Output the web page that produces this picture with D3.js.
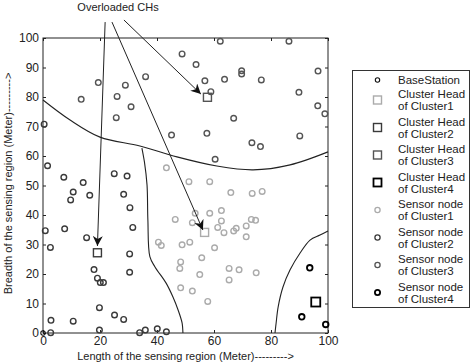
<html>
  <head>
    <meta charset="utf-8" />
    <script src="https://d3js.org/d3.v7.min.js"></script>
    <style>
      body { margin: 0; background: #fff; }
      text { font-family: Arial, "Liberation Sans", sans-serif; fill: #222; }
    </style>
  </head>
  <body>
    <svg id="chart" width="474" height="363"></svg>
    <script>
      // sensor nodes per cluster, [x, y] in meters
      var cluster1 = [[43.3,56.0],[51.2,51.3],[58.5,51.3],[46.4,38.5],[40.5,30.8],[41.5,29.7],[48.8,29.9],[48.3,24.1],[48.0,21.9],[48.3,15.3],[65.9,47.6],[73.4,47.3],[76.9,48.0],[53.4,40.6],[58.5,40.6],[62.6,41.5],[52.4,37.4],[62.6,38.0],[61.3,35.8],[63.5,34.0],[66.9,34.6],[67.8,35.5],[71.3,36.3],[73.1,38.5],[74.6,38.2],[71.3,32.6],[51.5,30.8],[60.2,28.9],[55.7,25.5],[65.3,21.9],[68.8,21.4],[74.8,20.4],[55.0,19.8],[65.3,18.0],[52.4,14.2],[57.8,10.7]];
      var cluster2 = [[0.4,70.8],[1.6,56.7],[7.3,52.8],[14.1,51.0],[25.0,54.0],[29.5,53.2],[10.6,47.8],[9.7,45.1],[16.4,46.7],[28.3,47.0],[30.5,42.5],[31.5,35.8],[0.8,34.7],[7.6,35.3],[2.6,29.0],[15.3,32.3],[30.4,26.8],[17.9,21.5],[19.1,18.6],[20.1,17.1],[21.2,17.1],[30.4,20.6],[19.8,8.6],[2.8,4.3],[10.6,4.0],[25.1,6.1],[28.3,4.6],[19.8,1.0],[2.7,0.1],[33.9,0.1],[35.9,1.0],[40.1,1.4],[43.3,0.4]];
      var cluster3 = [[48.8,94.6],[36.0,86.9],[19.4,84.9],[28.9,84.0],[13.4,79.2],[26.0,80.2],[30.9,76.7],[25.7,73.0],[45.1,67.1],[62.2,98.9],[86.3,98.9],[53.7,91.0],[56.8,85.5],[63.7,86.0],[69.7,88.9],[69.7,87.8],[76.6,85.8],[96.5,88.8],[58.9,81.8],[89.8,81.6],[96.4,77.0],[98.9,74.3],[66.9,72.8],[57.5,67.7],[73.3,64.5],[76.3,63.2],[90.1,66.8],[60.4,58.9]];
      var cluster4 = [[93.6,22.1],[90.8,5.5],[99.2,2.9]];
      var heads = [[56.7,34.1],[19.1,27.2],[57.7,79.9],[95.7,10.5]];
      var baseStation = [[0,0]];

      // cluster boundaries
      var boundTop = [[0,79.0],[9.5,72.2],[20,66.4],[34,63.4],[47,59.7],[61,56.6],[73.7,55.3],[86.7,57.0],[100,61.4]];
      var boundLeft = [[34.7,62.7],[35.6,57.9],[36.5,50.2],[36.8,38.3],[37.5,25.9],[39.3,22.4],[43.2,16.9],[45.6,12.2],[47.4,7.8],[48.8,3.4],[49.1,0]];
      var boundRight = [[100,34.6],[97.2,33.2],[93.7,31.5],[90.2,27.1],[86.7,21.4],[84.2,15.6],[82.5,8.8],[81.8,3.4],[81.4,0]];

      // "Overloaded CHs" arrows: from [x, y] to [x, y]
      var arrows = [[[21.8,105.4],[19.1,29.5]],[[24.2,105.4],[56.1,34.9]],[[28.4,106.1],[55.4,81.0]]];

      var xTicks = [0,20,40,60,80,100];
      var yTicks = [0,10,20,30,40,50,60,70,80,90,100];

      var legendLabels = [["BaseStation"],["Cluster Head","of Cluster1"],["Cluster Head","of Cluster2"],["Cluster Head","of Cluster3"],["Cluster Head","of Cluster4"],["Sensor node","of Cluster1"],["Sensor node","of Cluster2"],["Sensor node","of Cluster3"],["Sensor node","of Cluster4"]];

      var colors = ["#ababab", "#3a3a3a", "#545454", "#000"];

      var svg = d3.select("#chart"),
        margin = { top: 38, bottom: 30, left: 43, right: 146 },
        width = +svg.attr("width"),
        height = +svg.attr("height");

      var x = d3.scaleLinear().domain([0,100]).range([margin.left, width - margin.right]);
      var y = d3.scaleLinear().domain([0,100]).range([height - margin.bottom, margin.top]);

      // axes with inward ticks on all sides
      svg.append("g")
        .attr("transform", "translate(0," + y(0) + ")")
        .call(d3.axisBottom(x).tickValues(xTicks).tickSizeInner(-3).tickSizeOuter(0).tickPadding(3))
        .call((g) => g.select(".domain").remove());
      svg.append("g")
        .attr("transform", "translate(0," + y(100) + ")")
        .call(d3.axisTop(x).tickValues(xTicks).tickSizeInner(-3).tickSizeOuter(0).tickFormat(""))
        .call((g) => g.select(".domain").remove());
      svg.append("g")
        .attr("transform", "translate(" + x(0) + ",0)")
        .call(d3.axisLeft(y).tickValues(yTicks).tickSizeInner(-3).tickSizeOuter(0).tickPadding(4))
        .call((g) => g.select(".domain").remove());
      svg.append("g")
        .attr("transform", "translate(" + x(100) + ",0)")
        .call(d3.axisRight(y).tickValues(yTicks).tickSizeInner(-3).tickSizeOuter(0).tickFormat(""))
        .call((g) => g.select(".domain").remove());

      svg.selectAll(".tick text")
        .style("font-size", "12px")
        .style("font-family", "Arial, 'Liberation Sans', sans-serif")
        .attr("fill", "#222");
      svg.selectAll(".tick line").attr("stroke", "#222");

      svg.append("rect")
        .attr("x", x(0)).attr("y", y(100))
        .attr("width", x(100) - x(0)).attr("height", y(0) - y(100))
        .attr("fill", "none").attr("stroke", "#222").attr("stroke-width", 1);

      // axis titles
      svg.append("text")
        .attr("x", (x(0) + x(100)) / 2).attr("y", height - 3)
        .attr("text-anchor", "middle").style("font-size", "11px")
        .text("Length of the sensing region (Meter)--------->");
      svg.append("text")
        .attr("transform", "translate(12," + ((y(0) + y(100)) / 2 - 2) + ") rotate(-90)")
        .attr("text-anchor", "middle").style("font-size", "11px")
        .text("Breadth of the sensing region (Meter)--------->");

      // boundaries
      var line = d3.line().x((d) => x(d[0])).y((d) => y(d[1])).curve(d3.curveCatmullRom);
      [boundTop, boundLeft, boundRight].forEach(function (b) {
        svg.append("path").attr("d", line(b))
          .attr("fill", "none").attr("stroke", "#222").attr("stroke-width", 1.1);
      });

      // sensor nodes
      [cluster1, cluster2, cluster3, cluster4].forEach(function (c, i) {
        svg.append("g").selectAll("circle").data(c).enter().append("circle")
          .attr("cx", (d) => x(d[0])).attr("cy", (d) => y(d[1]))
          .attr("r", 2.8)
          .attr("fill", "none")
          .attr("stroke", colors[i])
          .attr("stroke-width", i == 3 ? 1.8 : 1.4);
      });

      // cluster heads
      svg.append("g").selectAll("rect").data(heads).enter().append("rect")
        .attr("x", (d, i) => x(d[0]) - (i == 3 ? 4.5 : 4))
        .attr("y", (d, i) => y(d[1]) - (i == 3 ? 4.5 : 4))
        .attr("width", (d, i) => (i == 3 ? 9 : 8))
        .attr("height", (d, i) => (i == 3 ? 9 : 8))
        .attr("fill", "none")
        .attr("stroke", (d, i) => colors[i])
        .attr("stroke-width", (d, i) => (i == 3 ? 1.8 : 1.4));

      // base station
      svg.selectAll(".bs").data(baseStation).enter().append("circle")
        .attr("cx", (d) => x(d[0])).attr("cy", (d) => y(d[1]))
        .attr("r", 2.2).attr("fill", "none").attr("stroke", "#111").attr("stroke-width", 1.1);

      // annotation
      svg.append("defs").append("marker")
        .attr("id", "head").attr("viewBox", "0 0 10 10")
        .attr("refX", 10).attr("refY", 5)
        .attr("markerWidth", 10).attr("markerHeight", 10)
        .attr("markerUnits", "userSpaceOnUse")
        .attr("orient", "auto")
        .append("path").attr("d", "M0,0 L10,5 L0,10 L3,5 Z").attr("fill", "#111");

      svg.append("g").selectAll("line").data(arrows).enter().append("line")
        .attr("x1", (d) => x(d[0][0])).attr("y1", (d) => y(d[0][1]))
        .attr("x2", (d) => x(d[1][0])).attr("y2", (d) => y(d[1][1]))
        .attr("stroke", "#222").attr("stroke-width", 1)
        .attr("marker-end", "url(#head)");

      svg.append("text")
        .attr("x", 118).attr("y", 11)
        .attr("text-anchor", "middle").style("font-size", "11px")
        .text("Overloaded CHs");

      // legend
      var lg = svg.append("g");
      lg.append("rect")
        .attr("x", 352.5).attr("y", 70.5).attr("width", 117).attr("height", 237)
        .attr("fill", "#fff").attr("stroke", "#333").attr("stroke-width", 1);

      var entryY = legendLabels.map(function (d, i) {
        return i == 0 ? 80 : 100 + (i - 1) * 27.5;
      });

      legendLabels.forEach(function (lab, i) {
        var cy = entryY[i];
        lab.forEach(function (t, j) {
          lg.append("text")
            .attr("x", 398).attr("y", cy + (j - (lab.length - 1) / 2) * 12 + 4)
            .style("font-size", "11.5px")
            .text(t);
        });
        if (i == 0) {
          lg.append("circle").attr("cx", 377.5).attr("cy", cy).attr("r", 2.2)
            .attr("fill", "none").attr("stroke", "#111").attr("stroke-width", 1.1);
        } else if (i <= 4) {
          var c = i - 1;
          lg.append("rect").attr("x", 373.5).attr("y", cy - 4).attr("width", 8).attr("height", 8)
            .attr("fill", "none").attr("stroke", colors[c])
            .attr("stroke-width", c == 3 ? 1.8 : 1.4);
        } else {
          var c = i - 5;
          lg.append("circle").attr("cx", 377.5).attr("cy", cy).attr("r", 2.6)
            .attr("fill", "none").attr("stroke", colors[c])
            .attr("stroke-width", c == 3 ? 1.8 : 1.3);
        }
      });
    </script>
  </body>
</html>
